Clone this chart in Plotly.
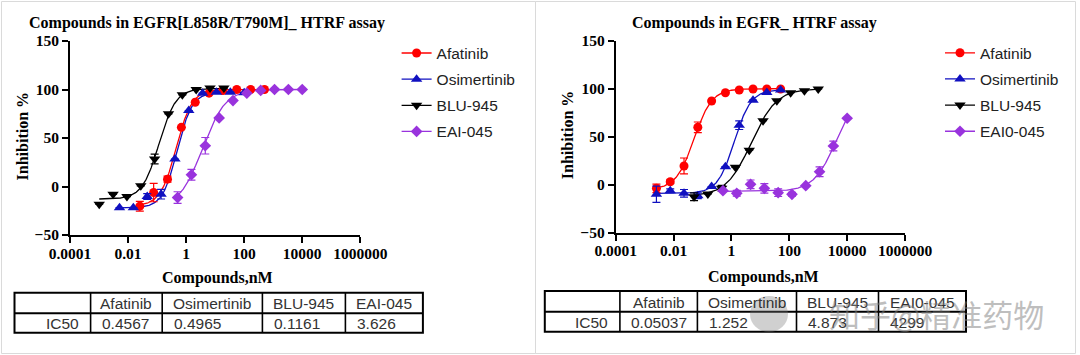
import numpy as np
import plotly.graph_objects as go

W, H = 1080, 355

# ---------------- data ----------------
names_left = ["Afatinib", "Osimertinib", "BLU-945", "EAI-045"]
names_right = ["Afatinib", "Osimertinib", "BLU-945", "EAI0-045"]
colors = ["#FF0000", "#1010C0", "#000000", "#9933DD"]
symbols = ["circle", "triangle-up", "triangle-down", "diamond"]
sizes = [9, 10, 10, 9]

# Left panel: EGFR[L858R/T790M] (concentration nM, inhibition %, error)
conc_L_afa = [0.0254, 0.0762, 0.2286, 0.6859, 2.058, 6.173, 18.52, 55.56, 166.7, 500]
inh_L_afa = [-20.3, -6.2, 7.6, 61.0, 86.9, 96.2, 99.0, 100.0, 100.0, 100.0]
err_L_afa = [5, 9.5, 3, 0, 0, 0, 0, 0, 0, 0]

conc_L_osi = [0.00508, 0.01524, 0.04572, 0.1372, 0.4115, 1.235, 3.704, 11.11, 33.33, 100]
inh_L_osi = [-21.8, -21.8, -10.4, -7.9, 28.3, 78.3, 96.2, 97.2, 97.2, 96.6]
err_L_osi = [0, 0, 3, 5, 0, 0, 0, 0, 0, 0]

conc_L_blu = [0.001016, 0.003048, 0.009145, 0.02743, 0.0823, 0.2469, 0.7407, 2.222, 6.667, 20]
inh_L_blu = [-18.3, -8.0, -10.4, 0.7, 28.3, 74.9, 94.5, 100.0, 101.5, 101.5]
err_L_blu = [0, 0, 0, 0, 5, 0, 0, 0, 0, 0]

conc_L_eai = [0.508, 1.524, 4.572, 13.72, 41.15, 123.5, 370.4, 1111, 3333, 10000]
inh_L_eai = [-11.4, 12.1, 42.0, 70.7, 88.6, 96.2, 99.0, 100.0, 100.0, 100.0]
err_L_eai = [6, 5.5, 8.5, 0, 0, 0, 0, 0, 0, 0]

# Right panel: EGFR wild type
conc_R_afa = [0.00254, 0.00762, 0.02286, 0.06859, 0.2058, 0.6173, 1.852, 5.556, 16.67, 50]
inh_R_afa = [-3.8, 3.1, 19.5, 59.8, 87.2, 95.8, 98.6, 99.7, 99.7, 99.7]
err_R_afa = [4.5, 2, 8.3, 5.5, 0, 0, 0, 0, 0, 0]

conc_R_osi = [0.00254, 0.00762, 0.02286, 0.06859, 0.2058, 0.6173, 1.852, 5.556, 16.67, 50]
inh_R_osi = [-10.0, -6.3, -9.0, -11.5, -2.0, 18.8, 62.0, 88.0, 96.0, 98.6]
err_R_osi = [8.5, 2, 4, 3, 0, 0, 4.5, 0, 0, 0]

conc_R_blu = [0.0508, 0.1524, 0.4572, 1.372, 4.115, 12.35, 37.04, 111.1, 333.3, 1000]
inh_R_blu = [-12.5, -9.7, -3.8, 18.1, 36.0, 66.7, 87.5, 95.8, 97.9, 99.7]
err_R_blu = [4, 0, 3, 0, 0, 0, 0, 0, 0, 0]

conc_R_eai = [0.508, 1.524, 4.572, 13.72, 41.15, 123.5, 370.4, 1111, 3333, 10000]
inh_R_eai = [-6.2, -9.0, 0.4, -3.8, -8.3, -10.0, -1.0, 13.5, 40.3, 69.2]
err_R_eai = [0, 3, 4.5, 5, 4, 2, 0, 5, 5, 0]

# Four-parameter logistic fit parameters
ic50_L = [0.4567, 0.4965, 0.1161, 3.626]
bottom_L = [-20, -22, -13, -22]
top_L = [100, 97, 101, 100]
hill_L = [1.6, 1.7, 1.5, 1.1]

ic50_R = [0.05037, 1.252, 4.873, 4299]
bottom_R = [-5, -9, -12, -7]
top_R = [100, 99, 100, 100]
hill_R = [1.4, 1.5, 1.0, 1.1]

ic50_text_L = ["0.4567", "0.4965", "0.1161", "3.626"]
ic50_text_R = ["0.05037", "1.252", "4.873", "4299"]
row_label = "IC50"

x_tickvals = [1e-4, 1e-2, 1, 1e2, 1e4, 1e6]
x_ticktext = ["0.0001", "0.01", "1", "100", "10000", "1000000"]
y_tickvals = [-50, 0, 50, 100, 150]

title_L = "Compounds in EGFR[L858R/T790M]_ HTRF assay"
title_R = "Compounds in EGFR_ HTRF assay"
xlabel = "Compounds,nM"
ylabel = "Inhibition %"
watermark = "知乎@精准药物"

left_sets = [(conc_L_afa, inh_L_afa, err_L_afa), (conc_L_osi, inh_L_osi, err_L_osi),
             (conc_L_blu, inh_L_blu, err_L_blu), (conc_L_eai, inh_L_eai, err_L_eai)]
right_sets = [(conc_R_afa, inh_R_afa, err_R_afa), (conc_R_osi, inh_R_osi, err_R_osi),
              (conc_R_blu, inh_R_blu, err_R_blu), (conc_R_eai, inh_R_eai, err_R_eai)]

# ---------------- helpers ----------------
def fx(px):
    return px / W

def fy(py):
    return 1 - py / H

def logistic(x, bottom, top, ic50, hill):
    x = np.asarray(x, dtype=float)
    return bottom + (top - bottom) / (1 + (ic50 / x) ** hill)

SERIF = "Liberation Serif"
SANS = "Liberation Sans"

fig = go.Figure()

panels = [
    dict(sets=left_sets, names=names_left, ic50=ic50_L, bottom=bottom_L, top=top_L, hill=hill_L,
         xa="x", ya="y", legend="legend"),
    dict(sets=right_sets, names=names_right, ic50=ic50_R, bottom=bottom_R, top=top_R, hill=hill_R,
         xa="x2", ya="y2", legend="legend2"),
]

for p in panels:
    # fitted curves
    for i, (c, v, e) in enumerate(p["sets"]):
        xs = np.logspace(np.log10(min(c)), np.log10(max(c)), 200)
        ys = logistic(xs, p["bottom"][i], p["top"][i], p["ic50"][i], p["hill"][i])
        fig.add_trace(go.Scatter(x=xs, y=ys, mode="lines", xaxis=p["xa"], yaxis=p["ya"],
                                 line=dict(color=colors[i], width=1.3), showlegend=False,
                                 hoverinfo="skip"))
    # points with error bars
    for i, (c, v, e) in enumerate(p["sets"]):
        fig.add_trace(go.Scatter(x=c, y=v, mode="markers", xaxis=p["xa"], yaxis=p["ya"],
                                 marker=dict(color=colors[i], symbol=symbols[i], size=sizes[i],
                                             line=dict(width=0)),
                                 error_y=dict(type="data", array=e, visible=True, color=colors[i],
                                              thickness=1.2, width=4),
                                 showlegend=False, name=p["names"][i]))
    # legend entries
    for i, n in enumerate(p["names"]):
        fig.add_trace(go.Scatter(x=[None], y=[None], mode="lines+markers", xaxis=p["xa"], yaxis=p["ya"],
                                 name=n, legend=p["legend"], legendgroup=p["legend"] + n,
                                 marker=dict(color=colors[i], symbol=symbols[i], size=sizes[i]),
                                 line=dict(color=colors[i], width=1.3)))

tickfont = dict(family=SERIF, size=15.5, color="black", weight="bold")
axis_common = dict(showgrid=False, zeroline=False, showline=True, linecolor="black", linewidth=2,
                   ticks="outside", ticklen=6, tickwidth=2, tickcolor="black", tickfont=tickfont,
                   automargin=False)

legend_common = dict(xanchor="left", yanchor="top", bgcolor="rgba(0,0,0,0)",
                     font=dict(family=SANS, size=15.5, color="#222222"), tracegroupgap=3)

fig.update_layout(
    width=W, height=H, margin=dict(l=0, r=0, t=0, b=0, autoexpand=False),
    paper_bgcolor="white", plot_bgcolor="white",
    xaxis=dict(type="log", range=[-4, 6], domain=[fx(70), fx(360.3)], anchor="y",
               tickvals=x_tickvals, ticktext=x_ticktext, ticklabelstandoff=-3, **axis_common),
    yaxis=dict(range=[-50, 150], domain=[fy(235), fy(41)], anchor="x",
               tickvals=y_tickvals, **axis_common),
    xaxis2=dict(type="log", range=[-4, 6], domain=[fx(615.8), fx(905)], anchor="y2",
                tickvals=x_tickvals, ticktext=x_ticktext, ticklabelstandoff=-3, **axis_common),
    yaxis2=dict(range=[-50, 150], domain=[fy(232.7), fy(40.7)], anchor="x2",
                tickvals=y_tickvals, **axis_common),
    legend=dict(x=fx(396.6), y=fy(36.4), **legend_common),
    legend2=dict(x=fx(940), y=fy(36.2), **legend_common),
    showlegend=True,
)

ann = []
shapes = []
tfont = dict(family=SERIF, size=16, color="black", weight="bold")

def add_text(text, px, py, font, xanchor="center", angle=0):
    ann.append(dict(text=text, x=fx(px), y=fy(py), xref="paper", yref="paper", showarrow=False,
                    xanchor=xanchor, yanchor="middle", font=font, textangle=angle))

add_text(title_L, 207, 23, tfont)
add_text(title_R, 754, 23, tfont)
add_text(xlabel, 217, 278, tfont)
add_text(xlabel, 763, 277, tfont)
add_text(ylabel, 22.7, 136.7, tfont, angle=-90)
add_text(ylabel, 568.2, 135, tfont, angle=-90)

# ---------------- IC50 tables (built from the data arrays) ----------------
table_font = dict(family=SANS, size=15.5, color="#333333")
tables = [
    ([14.5, 90.6, 162.2, 262.4, 345.4, 422.9], [292.7, 313.3, 332.7], names_left, ic50_text_L),
    ([544.8, 619.9, 697.4, 796.5, 878.5, 966.0], [291.0, 311.7, 331.7], names_right, ic50_text_R),
]
for cols, rows, heads, vals in tables:
    shapes.append(dict(type="rect", xref="paper", yref="paper", x0=fx(cols[0]), x1=fx(cols[-1]),
                       y0=fy(rows[2]), y1=fy(rows[0]), line=dict(color="black", width=2),
                       fillcolor="white", layer="above"))
    shapes.append(dict(type="line", xref="paper", yref="paper", x0=fx(cols[0]), x1=fx(cols[-1]),
                       y0=fy(rows[1]), y1=fy(rows[1]), line=dict(color="black", width=2)))
    for c in cols[1:-1]:
        shapes.append(dict(type="line", xref="paper", yref="paper", x0=fx(c), x1=fx(c),
                           y0=fy(rows[2]), y1=fy(rows[0]), line=dict(color="black", width=1.6)))
    hy = (rows[0] + rows[1]) / 2 + 0.8
    by = (rows[1] + rows[2]) / 2 + 0.8
    for j, h in enumerate(heads):
        add_text(h, (cols[j + 1] + cols[j + 2]) / 2, hy, table_font)
        add_text(vals[j], cols[j + 1] + 9.5, by, table_font, xanchor="left")
    add_text(row_label, cols[1] - 10, by, table_font, xanchor="right")

# watermark
shapes.append(dict(type="circle", xref="paper", yref="paper", x0=fx(750), x1=fx(788),
                   y0=fy(332), y1=fy(296), line=dict(width=0), fillcolor="rgba(120,120,120,0.35)",
                   layer="above"))
add_text(watermark, 936, 313, dict(family="Noto Sans CJK SC", size=31, color="rgba(125,125,125,0.5)"))

# panel frames
shapes.append(dict(type="rect", xref="paper", yref="paper", x0=fx(1.5), x1=fx(535.5), y0=fy(353.5),
                   y1=fy(1.5), line=dict(color="#dadada", width=1), layer="below"))
shapes.append(dict(type="rect", xref="paper", yref="paper", x0=fx(535.5), x1=fx(1075.5), y0=fy(353.5),
                   y1=fy(1.5), line=dict(color="#dadada", width=1), layer="below"))

fig.update_layout(annotations=ann, shapes=shapes)

fig.write_html("out.html", config={"displayModeBar": False},
               post_script="document.body.style.margin='0px';document.body.style.overflow='hidden';")
